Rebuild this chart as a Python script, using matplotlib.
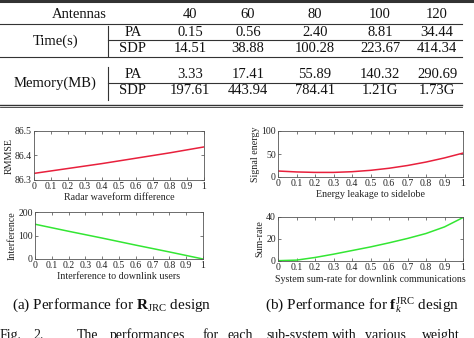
import numpy as np
import matplotlib
matplotlib.use("Agg")
import matplotlib.pyplot as plt
from matplotlib.lines import Line2D

plt.rcParams['font.family'] = ['Liberation Serif', 'DejaVu Serif']
plt.rcParams['mathtext.fontset'] = 'custom'
plt.rcParams['mathtext.rm'] = 'Liberation Serif'
plt.rcParams['mathtext.bf'] = 'Liberation Serif:bold'
plt.rcParams['mathtext.it'] = 'Liberation Serif:italic'

# table data
antennas = ["40", "60", "80", "100", "120"]
time_pa = ["0.15", "0.56", "2.40", "8.81", "34.44"]
time_sdp = ["14.51", "38.88", "100.28", "223.67", "414.34"]
mem_pa = ["3.33", "17.41", "55.89", "140.32", "290.69"]
mem_sdp = ["197.61", "443.94", "784.41", "1.21G", "1.73G"]

# curve data
weights = [0.0, 0.1, 0.2, 0.3, 0.4, 0.5, 0.6, 0.7, 0.8, 0.9, 1.0]
rmmse = [86.327, 86.337, 86.347, 86.357, 86.367, 86.378, 86.389, 86.400, 86.411, 86.423, 86.435]
interference = [148, 133, 118, 103.5, 89, 74, 59, 44.5, 30, 15, 0]
signal_energy = [13, 11, 10, 10, 11.5, 14.5, 19, 25, 32.5, 41.5, 52]
sum_rate = [0.3, 0.8, 3.2, 6.2, 9.5, 12.8, 16.5, 20.5, 25, 31, 39.5]

W, H = 474, 338
fig = plt.figure(figsize=(W / 100, H / 100), dpi=100)


def fx(x):
    return x / W


def fy(y):
    return 1 - y / H


def hline(y, x0, x1, lw=0.8):
    fig.add_artist(Line2D([fx(x0), fx(x1)], [fy(y), fy(y)], color='#333333', lw=lw))


def vline(x, y0, y1, lw=0.8):
    fig.add_artist(Line2D([fx(x), fx(x)], [fy(y0), fy(y1)], color='#333333', lw=lw))


def txt(x, y, s, size=10.5, ha='center', va='center', **kw):
    fig.text(fx(x), fy(y), s, fontsize=size, ha=ha, va=va, color='#111111', **kw)


# ---- table ----
col_x = [190, 248, 315, 380, 437]
hline(1.2, 0, W, lw=2.2)
txt(79, 14, "Antennas")
for x, a in zip(col_x, antennas):
    txt(x, 14, a)
hline(24, 0, 462)

txt(56, 41, "Time(s)")
vline(108, 26, 56)
txt(133, 32, "PA")
txt(133, 48, "SDP")
hline(40, 108, 462)
for x, a, b in zip(col_x, time_pa, time_sdp):
    txt(x, 32, a)
    txt(x, 48, b)
hline(57, 0, 462)

txt(55, 83, "Memory(MB)")
vline(108, 67, 100)
txt(133, 75, "PA")
txt(133, 90, "SDP")
hline(83, 108, 462)
for x, a, b in zip(col_x, mem_pa, mem_sdp):
    txt(x, 75, a)
    txt(x, 90, b)
hline(104.5, 0, 462, lw=1.0)
hline(107, 0, 462, lw=0.6)


# ---- subplots ----
def make_ax(x0, x1, y0, y1):
    return fig.add_axes([fx(x0), fy(y1), fx(x1 - x0), (y1 - y0) / H])


def style(ax, ylim, yticks, xlabel, ylabel):
    ax.set_xlim(0, 1)
    ax.set_ylim(*ylim)
    ax.set_xticks(weights)
    ax.set_xticklabels(["0", "0.1", "0.2", "0.3", "0.4", "0.5", "0.6", "0.7", "0.8", "0.9", "1"])
    ax.set_yticks(yticks)
    ax.tick_params(direction='in', length=2.5, width=0.5, labelsize=7, pad=1.5,
                   top=True, right=True, colors='#444444', labelcolor='#222222')
    for s in ax.spines.values():
        s.set_linewidth(0.6)
        s.set_color('#555555')
    ax.set_xlabel(xlabel, fontsize=7.2, labelpad=1.5, color='#222222')
    ax.set_ylabel(ylabel, fontsize=7.2, labelpad=1, color='#222222')


red = '#e8203c'
green = '#33e633'

ax1 = make_ax(34, 204, 131, 180)
ax1.plot(weights, rmmse, color=red, lw=1.1)
style(ax1, (86.3, 86.5), [86.3, 86.4, 86.5], "Radar waveform difference", "RMMSE")

ax2 = make_ax(35, 203, 212, 259)
ax2.plot(weights, interference, color=green, lw=1.1)
style(ax2, (0, 200), [0, 100, 200], "Interference to downlink users", "Interference")

ax3 = make_ax(278, 463, 131, 177)
ax3.plot(weights, signal_energy, color=red, lw=1.1)
style(ax3, (0, 100), [0, 50, 100], "Energy leakage to sidelobe", "Signal energy")

ax4 = make_ax(278, 463, 217, 261)
ax4.plot(weights, sum_rate, color=green, lw=1.1)
style(ax4, (0, 40), [0, 20, 40], "System sum-rate for downlink communications", "Sum-rate")

# ---- captions ----
txt(112, 305, r"(a) Performance for $\mathbf{R}_{\mathrm{JRC}}$ design", size=11)
txt(362, 305, r"(b) Performance for $\mathbf{f}_{k}^{\mathrm{JRC}}$ design", size=11)

# figure caption, cut by the lower edge as in the source page
caption_words = ["Fig.", "2.", "The", "performances", "for", "each", "sub-system", "with", "various", "weight"]
caption_x = [0, 33, 77, 110, 203, 228, 266, 332, 365, 422]
for wd, x in zip(caption_words, caption_x):
    txt(x, 339, wd, size=10, ha='left', va='baseline')

fig.savefig("out.png", dpi=100)
